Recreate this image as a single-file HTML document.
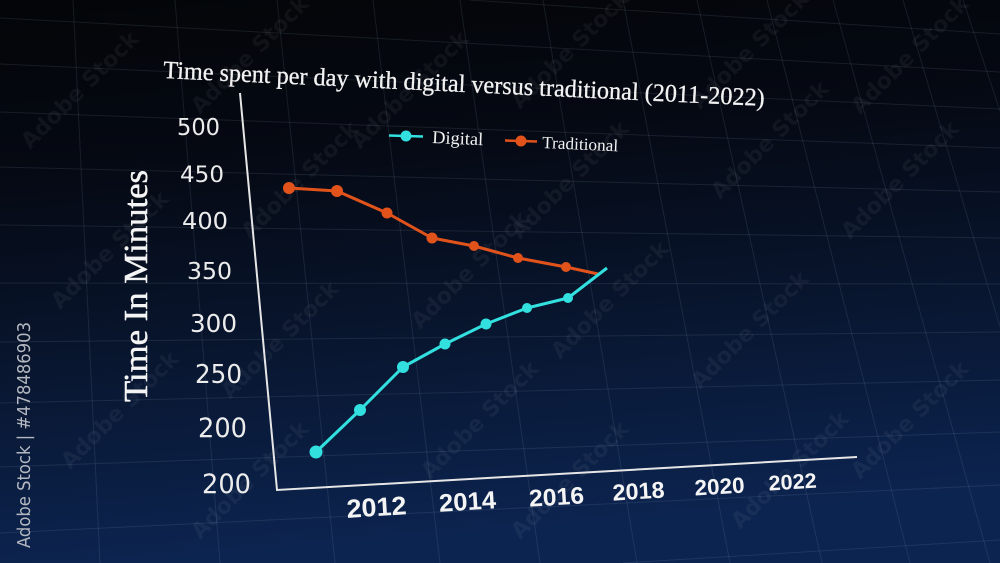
<!DOCTYPE html>
<html>
<head>
<meta charset="utf-8">
<style>
  html, body { margin: 0; padding: 0; background: #050810; width: 1000px; height: 563px; overflow: hidden; }
  svg { display: block; overflow: hidden; }
</style>
</head>
<body>
<svg width="1000" height="563" viewBox="0 0 1000 563" xmlns="http://www.w3.org/2000/svg">
  <defs>
    <linearGradient id="bg" x1="0" y1="0" x2="0.15" y2="1">
      <stop offset="0" stop-color="#030508"/>
      <stop offset="0.3" stop-color="#050913"/>
      <stop offset="0.6" stop-color="#08142b"/>
      <stop offset="1" stop-color="#0c2450"/>
    </linearGradient>
  </defs>
  <rect x="0" y="0" width="1000" height="563" fill="url(#bg)"/>

  <!-- perspective grid -->
  <g stroke="#a8bcd8" stroke-opacity="0.12" stroke-width="1" fill="none">
    <line x1="73" y1="0" x2="100" y2="563"/>
    <line x1="175" y1="0" x2="220" y2="563"/>
    <line x1="277" y1="0" x2="335" y2="563"/>
    <line x1="373" y1="0" x2="440" y2="563"/>
    <line x1="460" y1="0" x2="540" y2="563"/>
    <line x1="543" y1="0" x2="637" y2="563"/>
    <line x1="623" y1="0" x2="730" y2="563"/>
    <line x1="697" y1="0" x2="822" y2="563"/>
    <line x1="767" y1="0" x2="910" y2="563"/>
    <line x1="833" y1="0" x2="990" y2="563"/>
    <line x1="903" y1="0" x2="1000" y2="327"/>
    <line x1="963" y1="0" x2="1000" y2="111"/>

    <line x1="469" y1="0" x2="1000" y2="34"/>
    <line x1="0" y1="18" x2="1000" y2="72"/>
    <line x1="0" y1="64" x2="1000" y2="109"/>
    <line x1="0" y1="112" x2="1000" y2="148"/>
    <line x1="0" y1="167" x2="1000" y2="192"/>
    <line x1="0" y1="225" x2="1000" y2="238"/>
    <line x1="0" y1="283" x2="1000" y2="284"/>
    <line x1="0" y1="342" x2="1000" y2="332"/>
    <line x1="0" y1="403" x2="1000" y2="380"/>
    <line x1="0" y1="467" x2="1000" y2="432"/>
    <line x1="0" y1="533" x2="1000" y2="485"/>
    <line x1="623" y1="563" x2="1000" y2="540"/>
  </g>

  <!-- watermarks -->
  <g font-family="DejaVu Sans, sans-serif" font-weight="bold" font-size="22" fill="#ffffff" fill-opacity="0.05">
    <text transform="translate(30,150) rotate(-45)">Adobe Stock</text>
    <text transform="translate(200,115) rotate(-45)">Adobe Stock</text>
    <text transform="translate(60,310) rotate(-45)">Adobe Stock</text>
    <text transform="translate(250,240) rotate(-45)">Adobe Stock</text>
    <text transform="translate(360,150) rotate(-45)">Adobe Stock</text>
    <text transform="translate(520,110) rotate(-45)">Adobe Stock</text>
    <text transform="translate(700,110) rotate(-45)">Adobe Stock</text>
    <text transform="translate(860,115) rotate(-45)">Adobe Stock</text>
    <text transform="translate(70,470) rotate(-45)">Adobe Stock</text>
    <text transform="translate(230,400) rotate(-45)">Adobe Stock</text>
    <text transform="translate(420,330) rotate(-45)">Adobe Stock</text>
    <text transform="translate(520,240) rotate(-45)">Adobe Stock</text>
    <text transform="translate(720,200) rotate(-45)">Adobe Stock</text>
    <text transform="translate(850,240) rotate(-45)">Adobe Stock</text>
    <text transform="translate(200,540) rotate(-45)">Adobe Stock</text>
    <text transform="translate(430,480) rotate(-45)">Adobe Stock</text>
    <text transform="translate(560,360) rotate(-45)">Adobe Stock</text>
    <text transform="translate(700,390) rotate(-45)">Adobe Stock</text>
    <text transform="translate(520,540) rotate(-45)">Adobe Stock</text>
    <text transform="translate(740,530) rotate(-45)">Adobe Stock</text>
    <text transform="translate(860,480) rotate(-45)">Adobe Stock</text>
  </g>

  <!-- title -->
  <text transform="translate(163,78) rotate(2.66)" font-family="Liberation Serif, serif" font-size="25" fill="#f2f2f2" stroke="#f2f2f2" stroke-width="0.3" textLength="602" lengthAdjust="spacingAndGlyphs">Time spent per day with digital versus traditional (2011-2022)</text>

  <!-- legend -->
  <line x1="389" y1="135.5" x2="423" y2="136.5" stroke="#33e0e0" stroke-width="2.5"/>
  <circle cx="406" cy="136" r="5.5" fill="#33e0e0"/>
  <text transform="translate(432,143) rotate(2.5)" font-family="Liberation Serif, serif" font-size="18" fill="#f2f2f2" textLength="51" lengthAdjust="spacingAndGlyphs">Digital</text>
  <line x1="505" y1="140.5" x2="537" y2="141.5" stroke="#e2531b" stroke-width="2.5"/>
  <circle cx="521" cy="141" r="5.5" fill="#e2531b"/>
  <text transform="translate(542,148) rotate(2.5)" font-family="Liberation Serif, serif" font-size="17" fill="#f2f2f2" textLength="76" lengthAdjust="spacingAndGlyphs">Traditional</text>

  <!-- y axis title -->
  <text transform="translate(147,402) rotate(-90)" font-family="Liberation Serif, serif" font-size="34" fill="#f4f4f4" stroke="#f4f4f4" stroke-width="0.5" textLength="232" lengthAdjust="spacingAndGlyphs">Time In Minutes</text>

  <!-- watermark id vertical -->
  <text transform="translate(30,548) rotate(-90)" font-family="DejaVu Sans, sans-serif" font-size="18" fill="#b4b8c0" textLength="226" lengthAdjust="spacingAndGlyphs">Adobe Stock | #478486903</text>

  <!-- y tick labels -->
  <g font-family="DejaVu Sans, sans-serif" fill="#ececec">
    <text x="177" y="135" font-size="23" textLength="43" lengthAdjust="spacingAndGlyphs">500</text>
    <text x="180" y="182" font-size="22" textLength="44" lengthAdjust="spacingAndGlyphs">450</text>
    <text x="182" y="229" font-size="23" textLength="46" lengthAdjust="spacingAndGlyphs">400</text>
    <text x="187" y="279" font-size="23" textLength="45" lengthAdjust="spacingAndGlyphs">350</text>
    <text x="190" y="332" font-size="25" textLength="47" lengthAdjust="spacingAndGlyphs">300</text>
    <text x="195" y="383" font-size="26" textLength="47" lengthAdjust="spacingAndGlyphs">250</text>
    <text x="198" y="437" font-size="27" textLength="49" lengthAdjust="spacingAndGlyphs">200</text>
    <text x="202" y="493" font-size="27" textLength="49" lengthAdjust="spacingAndGlyphs">200</text>
  </g>

  <!-- axes -->
  <polyline points="240,93 277,490 857,457" fill="none" stroke="#e6e6e6" stroke-width="2"/>

  <!-- x tick labels -->
  <g font-family="Liberation Sans, sans-serif" font-weight="bold" fill="#f4f4f4" text-anchor="middle">
    <text transform="translate(377,516) rotate(-3.5)" font-size="26" textLength="60" lengthAdjust="spacingAndGlyphs">2012</text>
    <text transform="translate(468,510) rotate(-3.5)" font-size="25" textLength="57" lengthAdjust="spacingAndGlyphs">2014</text>
    <text transform="translate(557,505) rotate(-3.5)" font-size="24" textLength="55" lengthAdjust="spacingAndGlyphs">2016</text>
    <text transform="translate(639,499) rotate(-3.5)" font-size="23" textLength="52" lengthAdjust="spacingAndGlyphs">2018</text>
    <text transform="translate(720,494) rotate(-3.5)" font-size="22" textLength="50" lengthAdjust="spacingAndGlyphs">2020</text>
    <text transform="translate(793,489) rotate(-3.5)" font-size="21" textLength="48" lengthAdjust="spacingAndGlyphs">2022</text>
  </g>

  <!-- traditional series -->
  <polyline points="289,188 337,191 387,213 432,238 474,246 518,258 566,267 598,274" fill="none" stroke="#e2531b" stroke-width="3" stroke-linejoin="round"/>
  <g fill="#e2531b">
    <circle cx="289" cy="188" r="6"/>
    <circle cx="337" cy="191" r="6"/>
    <circle cx="387" cy="213" r="5.5"/>
    <circle cx="432" cy="238" r="5.5"/>
    <circle cx="474" cy="246" r="5"/>
    <circle cx="518" cy="258" r="5"/>
    <circle cx="566" cy="267" r="5"/>
  </g>

  <!-- digital series -->
  <polyline points="316,452 360,410 403,367 445,344 486,324 527,308 568,298 607,268" fill="none" stroke="#33e0e0" stroke-width="3" stroke-linejoin="round"/>
  <g fill="#33e0e0">
    <circle cx="316" cy="452" r="6.5"/>
    <circle cx="360" cy="410" r="6"/>
    <circle cx="403" cy="367" r="6"/>
    <circle cx="445" cy="344" r="5.5"/>
    <circle cx="486" cy="324" r="5.5"/>
    <circle cx="527" cy="308" r="5"/>
    <circle cx="568" cy="298" r="5"/>
  </g>
</svg>
</body>
</html>
